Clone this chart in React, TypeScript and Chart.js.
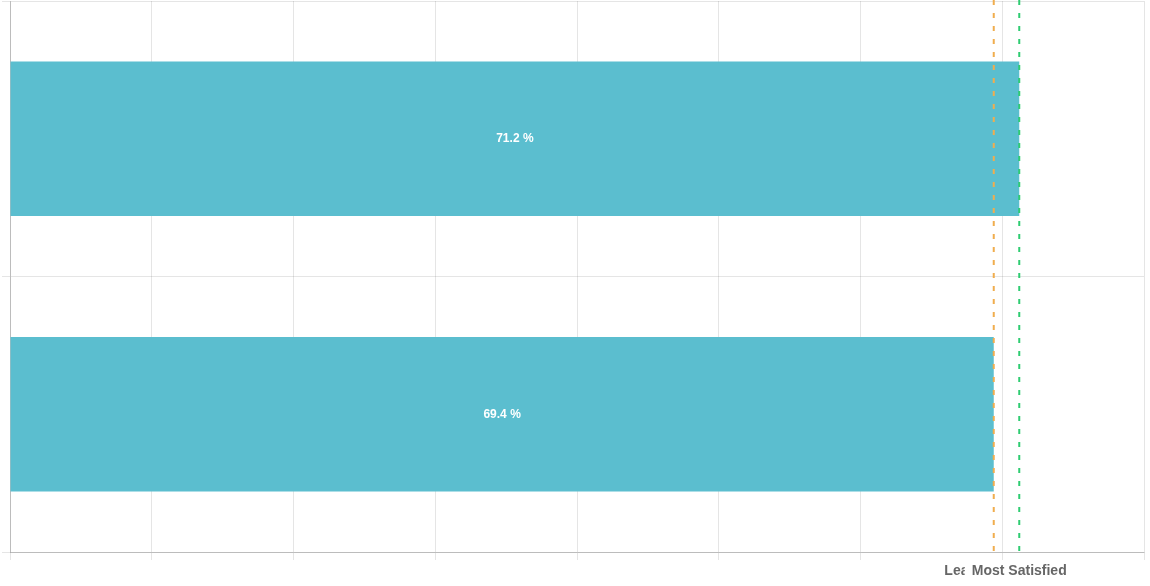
import { useEffect, useRef } from 'react';
import { Chart, registerables } from 'chart.js';

Chart.register(...registerables);

const categories = ['Most Satisfied', 'Least Satisfied'];
const scores = [71.2, 69.4];

// reference lines, drawn in this order (last one on top)
const markerNames = ['Least Satisfied', 'Most Satisfied'];
const markerValues = [69.4, 71.2];
const markerColors = ['#f0ad4e', '#2ecc71'];

const axisMax = 80;
const axisStep = 10;

const FONT = "'Helvetica Neue', Helvetica, Arial, sans-serif";

const markersPlugin = {
  id: 'markers',
  afterDatasetsDraw(chart: Chart) {
    const { ctx, chartArea, scales } = chart;
    const x = scales.x;

    // value labels in the middle of each bar
    const meta = chart.getDatasetMeta(0);
    ctx.save();
    ctx.font = `bold 12px ${FONT}`;
    ctx.fillStyle = '#fff';
    ctx.textAlign = 'center';
    ctx.textBaseline = 'middle';
    meta.data.forEach((bar: any, i) => {
      const cx = (bar.x + bar.base) / 2;
      ctx.fillText(`${scores[i]} %`, cx, bar.y);
    });
    ctx.restore();

    // dashed reference lines
    markerValues.forEach((v, i) => {
      const px = x.getPixelForValue(v);
      ctx.save();
      ctx.strokeStyle = markerColors[i];
      ctx.lineWidth = 2;
      ctx.setLineDash([5, 8]);
      ctx.beginPath();
      ctx.moveTo(px, 0);
      ctx.lineTo(px, chartArea.bottom);
      ctx.stroke();
      ctx.restore();
    });

    // names under the axis, white box behind each
    ctx.save();
    ctx.font = `bold 14px ${FONT}`;
    ctx.textAlign = 'center';
    ctx.textBaseline = 'middle';
    const ly = chartArea.bottom + 19;
    markerValues.forEach((v, i) => {
      const px = x.getPixelForValue(v);
      const w = ctx.measureText(markerNames[i]).width;
      ctx.fillStyle = '#fff';
      ctx.fillRect(px - w / 2 - 7, ly - 10, w + 14, 20);
      ctx.fillStyle = '#666';
      ctx.fillText(markerNames[i], px, ly);
    });
    ctx.restore();
  },
};

export default function App() {
  const canvasRef = useRef<HTMLCanvasElement>(null);

  useEffect(() => {
    document.body.style.margin = '0';
    if (!canvasRef.current) return;

    const chart = new Chart(canvasRef.current, {
      type: 'bar',
      data: {
        labels: categories,
        datasets: [
          {
            data: scores,
            backgroundColor: '#5bbecf',
            borderWidth: 0,
            categoryPercentage: 0.8,
            barPercentage: 0.7,
          },
        ],
      },
      options: {
        indexAxis: 'y',
        responsive: false,
        animation: false,
        layout: {
          padding: { top: 1, left: 2, right: 6, bottom: 26 },
        },
        scales: {
          x: {
            min: 0,
            max: axisMax,
            ticks: { display: false, stepSize: axisStep },
            grid: { color: 'rgba(0,0,0,0.1)', tickLength: 8 },
            border: { color: 'rgba(0,0,0,0.18)' },
          },
          y: {
            ticks: { display: false },
            grid: { color: 'rgba(0,0,0,0.1)', tickLength: 8 },
            border: { color: 'rgba(0,0,0,0.18)' },
          },
        },
        plugins: {
          legend: { display: false },
          tooltip: { enabled: false },
        },
      },
      plugins: [markersPlugin],
    });

    return () => {
      chart.destroy();
    };
  }, []);

  return <canvas ref={canvasRef} width={1150} height={586} />;
}
